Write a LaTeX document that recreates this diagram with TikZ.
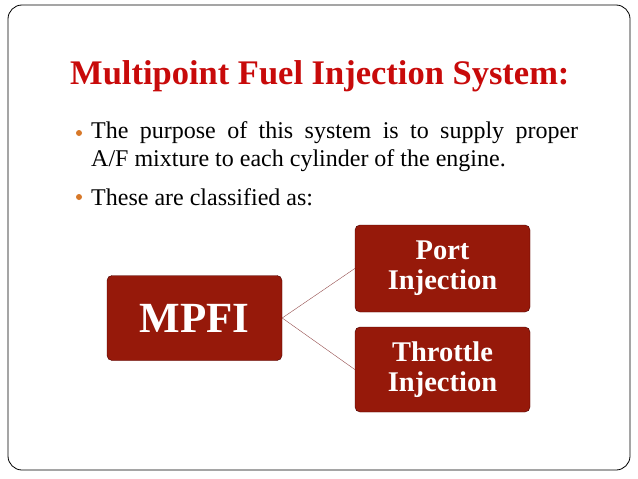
\documentclass[tikz,border=0pt]{standalone}
\usepackage{fontspec}
\setmainfont{Liberation Serif}
\begin{document}
\begin{tikzpicture}[x=1pt,y=-1pt,
 box/.style={draw=red!30!black,fill={rgb,255:red,150;green,25;blue,10},rounded corners=5pt,minimum width=175pt,text=white,font=\bfseries,align=center},
 bul/.style={circle,fill={rgb,255:red,215;green,120;blue,40},inner sep=0pt,minimum size=6pt}]
\useasboundingbox (0,0) rectangle (638,479);
\fill[white] (0,0) rectangle (638,479);
\draw[line width=0.8pt,rounded corners=14pt] (8,5) rectangle (630,470);
\node[anchor=base west,inner sep=0pt,text={rgb,255:red,200;green,10;blue,10},font=\fontsize{34.5}{40}\selectfont\bfseries] (t) at (70,84) {Multipoint Fuel Injection System:};
\node[bul] (b1) at (79,133) {};
\node[anchor=north west,text width=487pt,align=justify,inner sep=0pt,font=\fontsize{24}{28}\selectfont] (p1) at (91,121) {The purpose of this system is to supply proper\linebreak A/F mixture to each cylinder of the engine.};
\node[bul] (b2) at (79,197) {};
\node[anchor=base west,inner sep=0pt,font=\fontsize{24}{28}\selectfont] (p2) at (91,205) {These are classified as:};
\node[box,minimum height=85pt,font=\fontsize{43}{46}\selectfont\bfseries] (m) at (194.5,318) {MPFI};
\node[box,minimum height=87pt,font=\fontsize{28.5}{30}\selectfont\bfseries] (pi) at (442.5,268.5) {Port\\Injection};
\node[box,minimum height=85pt,font=\fontsize{28.5}{30}\selectfont\bfseries] (ti) at (442.5,369.5) {Throttle\\Injection};
\draw[red!40!black!70] (m.east) -- (pi.west);
\draw[red!40!black!70] (m.east) -- (ti.west);
\end{tikzpicture}
\end{document}
